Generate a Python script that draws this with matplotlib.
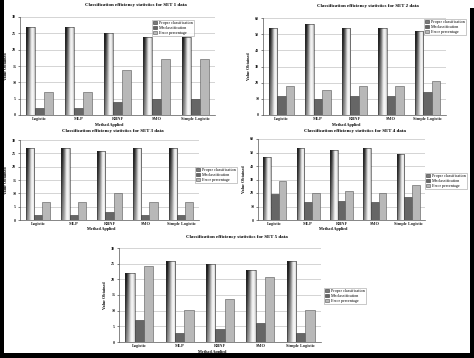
import numpy as np
import matplotlib
matplotlib.use("Agg")
import matplotlib.pyplot as plt
from matplotlib.patches import Rectangle, Patch

categories = ["Logistic", "MLP", "RBNF", "SMO", "Simple Logistic"]
series_names = ["Proper classification", "Misclassification", "Error percentage"]

set1_proper = [27, 27, 25, 24, 24]
set1_mis = [2, 2, 4, 5, 5]
set1_err = [6.9, 6.9, 13.8, 17.2, 17.2]

set2_proper = [54, 56, 54, 54, 52]
set2_mis = [12, 10, 12, 12, 14]
set2_err = [18.2, 15.2, 18.2, 18.2, 21.2]

set3_proper = [27, 27, 26, 27, 27]
set3_mis = [2, 2, 3, 2, 2]
set3_err = [6.9, 6.9, 10.3, 6.9, 6.9]

set4_proper = [47, 53, 52, 53, 49]
set4_mis = [19, 13, 14, 13, 17]
set4_err = [28.8, 19.7, 21.2, 19.7, 25.8]

set5_proper = [22, 26, 25, 23, 26]
set5_mis = [7, 3, 4, 6, 3]
set5_err = [24.1, 10.3, 13.8, 20.7, 10.3]

W, H = 474, 358
fig = plt.figure(figsize=(W / 100, H / 100), dpi=100)
fig.patch.set_facecolor("white")

SERIF = "Liberation Serif"

# gradient image for "proper" bars
gx = np.linspace(0, 1, 40)
dx = np.interp(gx, [0, 0.1, 0.35, 0.62, 0.82, 1.0], [1.0, 0.95, 0.6, 0.08, 0.05, 0.35])
gy = np.linspace(0, 1, 60)[:, None]
dark = dx[None, :] * (0.55 + 0.45 * gy)
grad = 1 - dark


def fx(px):
    return px / W


def fy(py):
    return 1 - py / H


def panel(l, r, t, b, ymax, ystep, title, title_xy, proper, mis, err,
          leg_xy, xlabel_y):
    ax = fig.add_axes([fx(l), fy(b), fx(r - l), (b - t) / H])
    x = np.arange(len(categories))
    w = 0.23
    bp = ax.bar(x - w, proper, w, facecolor="none", edgecolor="#303030",
                linewidth=0.4, zorder=3)
    for p in bp:
        x0, y0 = p.get_x(), p.get_y()
        im = ax.imshow(grad, cmap="gray", vmin=0, vmax=1, aspect="auto",
                       extent=[x0, x0 + p.get_width(), y0, y0 + p.get_height()],
                       origin="lower", zorder=2, interpolation="bilinear")
        im.set_clip_path(p)
    ax.bar(x, mis, w, color="#666666", edgecolor="#333333", linewidth=0.4,
           zorder=3)
    ax.bar(x + w, err, w, color="#b8b8b8", edgecolor="#555555",
           linewidth=0.4, zorder=3)
    ax.set_xlim(-0.5, len(categories) - 0.5)
    ax.set_ylim(0, ymax)
    ax.set_yticks(np.arange(0, ymax + 0.1, ystep))
    ax.set_xticks(x)
    ax.set_xticklabels(categories, fontfamily=SERIF, fontweight="bold",
                       fontsize=3.2)
    for lab in ax.get_yticklabels():
        lab.set_fontfamily(SERIF)
        lab.set_fontweight("bold")
        lab.set_fontsize(3.0)
    ax.tick_params(axis="both", length=1.2, width=0.4, pad=1.5,
                   colors="#222222")
    ax.tick_params(axis="x", length=0)
    ax.grid(axis="y", color="#c4c4c4", linewidth=0.5, zorder=0)
    ax.set_axisbelow(True)
    for s in ["top", "right"]:
        ax.spines[s].set_visible(False)
    for s in ["left", "bottom"]:
        ax.spines[s].set_linewidth(0.5)
        ax.spines[s].set_color("#555555")
    ax.set_facecolor("white")
    fig.text(fx((l + r) / 2 - 8), fy(xlabel_y), "Method Applied",
             fontfamily=SERIF, fontweight="bold", fontsize=3.0,
             ha="center", va="center")
    ax.set_ylabel("Value Obtained", fontfamily=SERIF, fontweight="bold",
                  fontsize=3.0, labelpad=3)
    fig.text(fx(title_xy[0]), fy(title_xy[1]), title, fontfamily=SERIF,
             fontweight="bold", fontsize=3.6, ha="center", va="center")
    handles = [Patch(facecolor="#7a7a7a", edgecolor="#333333", linewidth=0.4),
               Patch(facecolor="#666666", edgecolor="#333333", linewidth=0.4),
               Patch(facecolor="#b8b8b8", edgecolor="#555555", linewidth=0.4)]
    leg = fig.legend(handles, series_names, loc="upper left",
                     bbox_to_anchor=(fx(leg_xy[0]), fy(leg_xy[1])),
                     prop={"family": SERIF, "size": 3.0},
                     frameon=True, fancybox=False, edgecolor="#888888",
                     handlelength=0.9, handleheight=0.8, handletextpad=0.4,
                     labelspacing=0.15, borderpad=0.3, borderaxespad=0)
    leg.get_frame().set_linewidth(0.4)
    return ax


panel(20, 215, 17, 115, 30, 5,
      "Classification efficiency statistics for SET 1 data", (136, 5),
      set1_proper, set1_mis, set1_err, (152, 20), 125)
panel(263, 446, 18, 115, 60, 10,
      "Classification efficiency statistics for SET 2 data", (368, 6),
      set2_proper, set2_mis, set2_err, (424, 19), 125)
panel(20, 199, 140, 220, 30, 5,
      "Classification efficiency statistics for SET 3 data", (113, 131),
      set3_proper, set3_mis, set3_err, (195, 167), 229)
panel(258, 425, 139, 220, 60, 10,
      "Classification efficiency statistics for SET 4 data", (355, 131),
      set4_proper, set4_mis, set4_err, (425, 173), 229)
panel(119, 321, 248, 342, 30, 5,
      "Classification efficiency statistics for SET 5 data", (237, 237),
      set5_proper, set5_mis, set5_err, (324, 288), 352)

# black frame of the scanned figure
for (x0, y0, x1, y1) in [(0, 0, 4, H), (470, 8, W, H), (0, 353, W, H)]:
    fig.patches.append(Rectangle((fx(x0), fy(y1)), fx(x1 - x0), (y1 - y0) / H,
                                 transform=fig.transFigure, facecolor="black",
                                 edgecolor="none", zorder=10))

fig.savefig("out.png", dpi=100, facecolor="white")
